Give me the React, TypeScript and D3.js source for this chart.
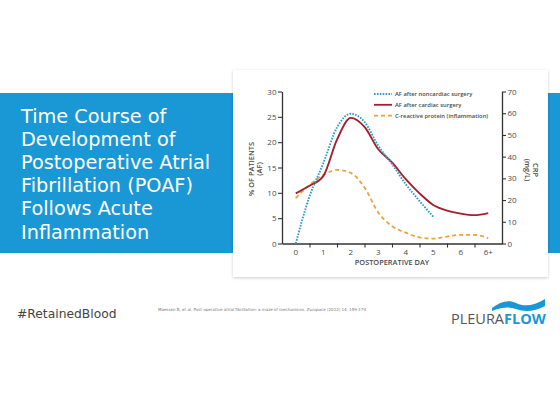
import { useEffect, useRef } from 'react';
import * as d3 from 'd3';

// day categories on the x axis
const dayLabels = ['0', '1', '2', '3', '4', '5', '6', '6+'];
const halfDayTicks = [0.5, 1.5, 2.5, 3.5, 4.5, 5.5, 6.5];

// sample positions (index of day, half-day steps)
const fullPositions = [0, 0.5, 1, 1.5, 2, 2.5, 3, 3.5, 4, 4.5, 5, 5.5, 6, 6.5, 7];
const noncardiacPositions = [0, 0.5, 1, 1.5, 2, 2.5, 3, 3.5, 4, 4.5, 5];

// % of patients with AF
const noncardiacAF = [0, 9.3, 15.8, 22.9, 25.6, 24.0, 19.3, 15.7, 11.7, 8.4, 5.3];
const cardiacAF = [9.9, 11.4, 13.3, 20.5, 24.8, 23.0, 18.6, 16.0, 12.7, 9.9, 7.6, 6.5, 5.9, 5.6, 6.0];
// CRP mg/L
const crpValues = [20.9, 27.0, 31.5, 33.9, 32.5, 25.8, 14.3, 8.0, 5.0, 2.8, 2.2, 3.2, 4.0, 4.0, 2.4];

const leftTicks = [0, 5, 10, 15, 20, 25, 30];
const rightTicks = [0, 10, 20, 30, 40, 50, 60, 70];

const titleLines = [
  'Time Course of',
  'Development of',
  'Postoperative Atrial',
  'Fibrillation (POAF)',
  'Follows Acute',
  'Inflammation',
];

const legendItems = [
  { label: 'AF after noncardiac surgery', color: '#2e9bc9', dash: '1.6,1.3' },
  { label: 'AF after cardiac surgery', color: '#a3202f', dash: null },
  { label: 'C-reactive protein (inflammation)', color: '#e8a33d', dash: '4,3' },
];

const BLUE = '#1a98d5';
const TEXT = '#4a4a4a';
const CHART_FONT = '"Open Sans", sans-serif';

const App = () => {
  const svgRef = useRef<SVGSVGElement>(null);

  useEffect(() => {
    const svg = d3.select(svgRef.current);
    svg.selectAll('*').remove();

    const width = 560;
    const height = 396;
    svg.attr('width', width).attr('height', height);

    // drop shadow for the card
    const defs = svg.append('defs');
    const filter = defs.append('filter').attr('id', 'shadow').attr('x', '-5%').attr('y', '-5%').attr('width', '110%').attr('height', '115%');
    filter.append('feDropShadow').attr('dx', 0).attr('dy', 1).attr('stdDeviation', 1.5).attr('flood-color', '#000').attr('flood-opacity', 0.2);

    svg.append('rect').attr('width', width).attr('height', height).attr('fill', '#fff');

    // blue band
    svg.append('rect').attr('x', 0).attr('y', 93).attr('width', width).attr('height', 160).attr('fill', BLUE);

    // title
    const title = svg.append('text')
      .attr('x', 21)
      .style('font-family', '"DejaVu Sans", Verdana, sans-serif')
      .style('font-size', '19.3px')
      .attr('fill', '#fff');
    titleLines.forEach((line, i) => {
      title.append('tspan').attr('x', 21).attr('y', 123 + i * 23.1).text(line);
    });

    // card
    svg.append('rect')
      .attr('x', 233).attr('y', 70).attr('width', 315).attr('height', 207)
      .attr('fill', '#fff')
      .attr('filter', 'url(#shadow)');

    // scales
    const x = d3.scaleLinear().domain([-0.5, 7.5]).range([282, 502]);
    const yLeft = d3.scaleLinear().domain([0, 30]).range([243.5, 91.5]);
    const yRight = d3.scaleLinear().domain([0, 70]).range([243.5, 91.5]);

    const g = svg.append('g').style('font-family', CHART_FONT);

    // left axis
    const leftAxis = g.append('g')
      .attr('transform', `translate(${x(-0.5)},0)`)
      .call(d3.axisLeft(yLeft).tickValues(leftTicks).tickSize(4).tickSizeOuter(0));

    // right axis
    const rightAxis = g.append('g')
      .attr('transform', `translate(${x(7.5)},0)`)
      .call(d3.axisRight(yRight).tickValues(rightTicks).tickSize(4).tickSizeOuter(0));

    // x axis: ticks at half days, labels at days
    const xAxis = g.append('g')
      .attr('transform', `translate(0,${yLeft(0)})`)
      .call(d3.axisBottom(x).tickValues(halfDayTicks).tickSize(4).tickSizeOuter(0).tickFormat(() => ''));

    [leftAxis, rightAxis, xAxis].forEach(ax => {
      ax.select('.domain').attr('stroke', '#333').attr('stroke-width', 1.3);
      ax.selectAll('.tick line').attr('stroke', '#333').attr('stroke-width', 1.1);
      ax.selectAll('.tick text')
        .attr('fill', TEXT)
        .style('font-family', CHART_FONT)
        .style('font-size', '8px');
    });
    leftAxis.selectAll('.tick text').attr('x', -5.5);
    rightAxis.selectAll('.tick text').attr('x', 5.5);

    g.append('g')
      .selectAll('text')
      .data(dayLabels)
      .enter()
      .append('text')
      .attr('x', (d, i) => x(i))
      .attr('y', 254.5)
      .attr('text-anchor', 'middle')
      .attr('fill', TEXT)
      .style('font-size', '8px')
      .text(d => d);

    // axis titles
    g.append('text')
      .attr('x', 392)
      .attr('y', 265)
      .attr('text-anchor', 'middle')
      .attr('fill', TEXT)
      .style('font-size', '7.4px')
      .style('font-weight', 600)
      .text('POSTOPERATIVE DAY');

    [['% OF PATIENTS', 253.5], ['(AF)', 261.5]].forEach(([label, cx]) => {
      g.append('text')
        .attr('transform', `translate(${cx},169) rotate(-90)`)
        .attr('text-anchor', 'middle')
        .attr('fill', TEXT)
        .style('font-size', '7.4px')
        .style('font-weight', 600)
        .text(label as string);
    });

    [['CRP', 533], ['(mg/L)', 525]].forEach(([label, cx]) => {
      g.append('text')
        .attr('transform', `translate(${cx},170) rotate(90)`)
        .attr('text-anchor', 'middle')
        .attr('fill', TEXT)
        .style('font-size', '7.4px')
        .style('font-weight', 600)
        .text(label as string);
    });

    // lines
    const lineLeft = d3.line<[number, number]>()
      .x(d => x(d[0]))
      .y(d => yLeft(d[1]))
      .curve(d3.curveMonotoneX);
    const lineRight = d3.line<[number, number]>()
      .x(d => x(d[0]))
      .y(d => yRight(d[1]))
      .curve(d3.curveMonotoneX);

    g.append('path')
      .datum(fullPositions.map((p, i) => [p, crpValues[i]] as [number, number]))
      .attr('d', lineRight)
      .attr('fill', 'none')
      .attr('stroke', '#e8a33d')
      .attr('stroke-width', 1.8)
      .attr('stroke-dasharray', '4,3');

    g.append('path')
      .datum(fullPositions.map((p, i) => [p, cardiacAF[i]] as [number, number]))
      .attr('d', lineLeft)
      .attr('fill', 'none')
      .attr('stroke', '#a3202f')
      .attr('stroke-width', 1.9);

    g.append('path')
      .datum(noncardiacPositions.map((p, i) => [p, noncardiacAF[i]] as [number, number]))
      .attr('d', lineLeft)
      .attr('fill', 'none')
      .attr('stroke', '#2e9bc9')
      .attr('stroke-width', 1.9)
      .attr('stroke-dasharray', '1.6,1.3');

    // legend
    const legend = g.selectAll('.legend')
      .data(legendItems)
      .enter()
      .append('g')
      .attr('class', 'legend')
      .attr('transform', (d, i) => `translate(374, ${94 + i * 10.8})`);

    legend.append('line')
      .attr('x1', 0).attr('x2', 18)
      .attr('stroke', d => d.color)
      .attr('stroke-width', 1.8)
      .attr('stroke-dasharray', d => d.dash);

    legend.append('text')
      .attr('x', 21)
      .attr('dy', '0.35em')
      .attr('fill', TEXT)
      .style('font-size', '5.8px')
      .style('font-weight', 600)
      .text(d => d.label);

    // footer
    svg.append('text')
      .attr('x', 17).attr('y', 317.5)
      .attr('fill', '#444')
      .style('font-family', '"DejaVu Sans", sans-serif')
      .style('font-size', '12.3px')
      .text('#RetainedBlood');

    const cite = svg.append('text')
      .attr('x', 158).attr('y', 311)
      .attr('fill', '#777')
      .style('font-family', '"DejaVu Sans", sans-serif')
      .style('font-size', '4px');
    cite.append('tspan').text('Maessen B, et al. Post-operative atrial fibrillation: a maze of mechanisms. ');
    cite.append('tspan').style('font-style', 'italic').text('Europace');
    cite.append('tspan').text(' (2012) 14: 159-174');

    // logo
    svg.append('path')
      .attr('d', 'M492,308 C500,302 508,299 516,303 C524,307 534,306 545,299 L545,306 C534,312 524,312 516,309 C508,306 500,308 492,311 Z')
      .attr('fill', BLUE);

    const logo = svg.append('text')
      .attr('x', 451).attr('y', 324)
      .style('font-family', '"Open Sans", sans-serif')
      .style('font-size', '14.5px');
    logo.append('tspan').attr('fill', '#555').text('PLEURA');
    logo.append('tspan').attr('fill', BLUE).style('font-weight', 700).text('FLOW');
  }, []);

  return (
    <svg ref={svgRef} style={{ position: 'absolute', left: 0, top: 0, display: 'block' }}></svg>
  );
};

export default App;
